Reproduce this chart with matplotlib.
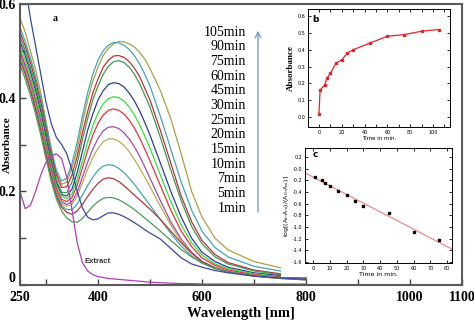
import numpy as np
import matplotlib
matplotlib.use('Agg')
import matplotlib.pyplot as plt
from matplotlib.patches import Rectangle

# ---- spectra (main panel a) ----
wl = [250, 260, 270, 280, 290, 300, 310, 320, 330, 340, 350, 360, 370, 380, 390, 400,
      410, 420, 430, 440, 450, 460, 470, 480, 490, 500, 520, 540, 560, 580, 600, 625,
      650, 700, 750, 800]

abs_105 = [.57, .54, .50, .46, .41, .35, .29, .24, .215, .22, .25, .29, .345, .395, .435, .465,
           .49, .505, .515, .52, .519, .515, .508, .497, .482, .462, .415, .355, .28, .2, .145, .1,
           .075, .05, .037, .03]
abs_90 = [.55, .52, .485, .445, .40, .345, .29, .245, .222, .228, .26, .305, .36, .41, .45, .48,
          .50, .512, .518, .517, .512, .503, .49, .472, .45, .425, .36, .29, .22, .16, .115, .08,
          .06, .04, .03, .025]
abs_75 = [.54, .51, .475, .435, .39, .335, .28, .235, .208, .21, .235, .275, .325, .37, .41, .44,
          .465, .48, .489, .49, .486, .477, .463, .445, .42, .395, .33, .26, .19, .135, .095, .065,
          .048, .032, .024, .02]
abs_60 = [.53, .50, .465, .425, .38, .325, .27, .225, .198, .197, .22, .26, .31, .355, .395, .425,
          .45, .467, .477, .479, .475, .465, .45, .43, .405, .38, .315, .245, .18, .125, .088, .06,
          .045, .03, .022, .018]
abs_45 = [.52, .49, .455, .415, .37, .315, .262, .218, .193, .19, .205, .24, .285, .33, .365, .395,
          .415, .428, .432, .43, .423, .41, .393, .372, .347, .32, .26, .2, .145, .1, .07, .05,
          .038, .026, .02, .016]
abs_30 = [.51, .48, .445, .405, .36, .305, .255, .212, .19, .184, .195, .225, .265, .305, .34, .367,
          .387, .398, .402, .4, .393, .38, .363, .342, .318, .292, .235, .178, .128, .09, .064, .045,
          .035, .024, .018, .015]
abs_25 = [.50, .47, .435, .395, .35, .297, .248, .206, .183, .178, .187, .213, .25, .287, .32, .345,
          .363, .373, .376, .373, .365, .352, .335, .314, .29, .265, .212, .16, .115, .082, .058, .042,
          .032, .022, .017, .014]
abs_20 = [.495, .465, .43, .39, .345, .29, .242, .2, .178, .172, .178, .198, .23, .262, .29, .313,
          .329, .337, .338, .334, .325, .312, .295, .275, .252, .228, .18, .135, .098, .07, .05, .037,
          .029, .02, .016, .013]
abs_15 = [.49, .46, .425, .385, .34, .286, .238, .196, .174, .168, .172, .19, .218, .247, .272, .292,
          .306, .312, .312, .307, .298, .285, .268, .25, .23, .21, .168, .128, .094, .068, .049, .036,
          .028, .02, .015, .012]
abs_10 = [.485, .455, .42, .38, .335, .282, .234, .193, .17, .161, .161, .173, .192, .212, .23, .245,
          .254, .257, .255, .249, .24, .228, .215, .2, .185, .17, .14, .11, .083, .062, .047, .035,
          .028, .02, .015, .012]
abs_7 = [.48, .45, .415, .375, .33, .278, .23, .19, .166, .155, .151, .158, .172, .189, .204, .217,
         .226, .229, .227, .221, .212, .202, .192, .182, .172, .162, .14, .115, .09, .068, .05, .037,
         .028, .019, .014, .011]
abs_5 = [.47, .44, .405, .365, .32, .27, .222, .183, .158, .143, .135, .134, .142, .155, .168, .178,
         .185, .187, .186, .182, .176, .169, .161, .152, .143, .134, .115, .095, .076, .06, .047, .036,
         .028, .019, .014, .011]
abs_1 = [.72, .64, .57, .51, .45, .39, .345, .315, .30, .28, .245, .20, .165, .145, .139, .141,
         .148, .154, .154, .151, .146, .14, .133, .126, .118, .111, .098, .078, .058, .045, .038, .031,
         .026, .019, .015, .012]
abs_extract = [.20, .163, .17, .20, .235, .262, .276, .28, .27, .23, .16, .09, .048, .03, .022, .018,
               .016, .014, .013, .012, .011, .01, .009, .008, .007, .006, .005, .004, .003, .003, .002, .002,
               .002, .002, .002, .002]

spectra = [abs_105, abs_90, abs_75, abs_60, abs_45, abs_30, abs_25, abs_20, abs_15,
           abs_10, abs_7, abs_5, abs_1]
time_labels = ['105min', '90min', '75min', '60min', '45min', '30min', '25min', '20min',
               '15min', '10min', '7min', '5min', '1min']
colors = ['#aca043', '#3fa6b6', '#c0303a', '#3f9a52', '#2e3c9c', '#35e03a', '#e8303e',
          '#9a4cae', '#b8ae4c', '#40a6b2', '#b4383c', '#4c9a58', '#3a48a0']

# ---- inset b ----
t_b = [0, 1, 5, 7, 10, 15, 20, 25, 30, 45, 60, 75, 90, 105]
a_b = [0.02, 0.16, 0.19, 0.23, 0.26, 0.32, 0.34, 0.38, 0.40, 0.44, 0.48, 0.49, 0.51, 0.52]

# ---- inset c ----
t_c = [1, 5, 7, 10, 15, 20, 25, 30, 45, 60, 75]
log_c = [-0.15, -0.19, -0.24, -0.29, -0.39, -0.45, -0.55, -0.64, -0.76, -1.09, -1.22]

W, H = 474, 322
fig = plt.figure(figsize=(W / 100, H / 100), dpi=100)


def box(x0, y0, x1, y1):
    # pixel box -> figure fraction rect
    return [x0 / W, 1 - y1 / H, (x1 - x0) / W, (y1 - y0) / H]


serif = 'Liberation Serif'

ax = fig.add_axes(box(20, 4, 462, 285))
for s, c in zip(spectra, colors):
    ax.plot(wl, s, color=c, lw=0.9)
ax.plot(wl, abs_extract, color='#b040b4', lw=0.9)
ax.set_xlim(250, 1100)
ax.set_ylim(0, 0.6)
ax.set_xticks([250, 400, 600, 800, 1000, 1100])
ax.set_xticklabels(['250', '400', '600', '800', '1000', '1100'])
ax.set_xticks([300, 500, 700, 900], minor=True)
ax.set_yticks([0, 0.2, 0.4, 0.6])
ax.set_yticklabels(['0', '0.2', '0.4', '0.6'])
ax.set_yticks([0.1, 0.3, 0.5], minor=True)
ax.tick_params(which='both', direction='in', length=4.5, width=1, color='#444444')
ax.tick_params(axis='x', pad=4)
ax.tick_params(axis='y', pad=3)
for lab in ax.get_xticklabels() + ax.get_yticklabels():
    lab.set_fontfamily(serif)
    lab.set_fontweight('bold')
    lab.set_fontsize(10)
ax.get_yticklabels()[0].set_verticalalignment('bottom')   # keep "0" clear of "250"
for sp in ax.spines.values():
    sp.set_color('#5a5a5a')
    sp.set_linewidth(1.5)
ax.set_xlabel('Wavelength [nm]', fontfamily=serif, fontweight='bold', fontsize=10.5)
ax.xaxis.set_label_coords(0.5, -0.078)
ax.set_ylabel('Absorbance', fontfamily=serif, fontweight='bold', fontsize=8)
ax.yaxis.set_label_coords(-0.018, 0.5)

ax.text(0.079, 0.947, 'a', transform=ax.transAxes, fontfamily=serif, fontweight='bold',
        fontsize=7, ha='center', va='center')
ax.text(0.176, 0.082, 'Extract', transform=ax.transAxes, fontfamily='Liberation Sans',
        fontweight='bold', fontsize=5.5, ha='center', va='center', color='#333333')
for i, lab in enumerate(time_labels):
    ax.text(0.511, 0.900 - i * 0.0522, lab, transform=ax.transAxes, fontfamily=serif,
            fontsize=10, ha='right', va='center')
ax.annotate('', xy=(0.5385, 0.915), xytext=(0.5385, 0.249), xycoords='axes fraction',
            arrowprops=dict(arrowstyle='->', color='#7a9cc8', lw=1.0))

# white panel that hides the spectra behind the insets
fig.add_artist(Rectangle((281 / W, 1 - 277 / H), 179.5 / W, 271 / H,
                         transform=fig.transFigure, facecolor='white', edgecolor='none',
                         zorder=1))

# inset b
axb = fig.add_axes(box(308, 9, 450, 127), zorder=2)
axb.plot(t_b, a_b, color='#e3242b', lw=0.9, marker='s', ms=2)
axb.set_xlim(-9.6, 115)
axb.set_ylim(-0.059, 0.642)
axb.set_xticks([0, 20, 40, 60, 80, 100])
axb.set_xticks([10, 30, 50, 70, 90, 110], minor=True)
axb.set_yticks([0, 0.1, 0.2, 0.3, 0.4, 0.5, 0.6])
axb.set_yticklabels(['0.0', '0.1', '0.2', '0.3', '0.4', '0.5', '0.6'])
axb.tick_params(which='both', direction='in', top=True, right=True, labelsize=3.5,
                length=2, width=0.6, pad=2)
axb.set_ylabel('Absorbance', fontfamily=serif, fontweight='bold', fontsize=6.5, labelpad=2)
axb.set_xlabel('Time in min.', fontsize=4, labelpad=1)
axb.text(0.05, 0.915, 'b', transform=axb.transAxes, fontweight='bold', fontsize=6.5,
         ha='center', va='center')
for sp in axb.spines.values():
    sp.set_linewidth(0.7)

# inset c
axc = fig.add_axes(box(305, 148, 452, 263), zorder=2)
slope, icpt = np.polyfit(t_c, log_c, 1)
tt = np.array([-5, 83])
axc.plot(tt, slope * tt + icpt, color='#f08a8a', lw=0.9)
axc.plot(t_c, log_c, ls='none', marker='s', ms=2, color='black')
axc.set_xlim(-5, 83)
axc.set_ylim(-1.617, 0.354)
axc.set_xticks(range(0, 81, 10))
yt = np.round(np.arange(-1.6, 0.21, 0.2), 1)
axc.set_yticks(yt)
axc.set_yticklabels(['%.1f' % v for v in yt])
axc.tick_params(which='both', direction='in', top=True, right=True, labelsize=3.5,
                length=2, width=0.6, pad=2)
axc.set_xlabel('Time in min.', fontsize=4.5, labelpad=1)
axc.set_ylabel(r'log[(A$_t$-A$_\infty$)/(A$_0$-A$_\infty$)]', fontsize=4.5, labelpad=1)
axc.text(0.068, 0.94, 'c', transform=axc.transAxes, fontweight='bold', fontsize=6.5,
         ha='center', va='center')
for sp in axc.spines.values():
    sp.set_linewidth(0.7)

fig.savefig('out.png', dpi=100)
